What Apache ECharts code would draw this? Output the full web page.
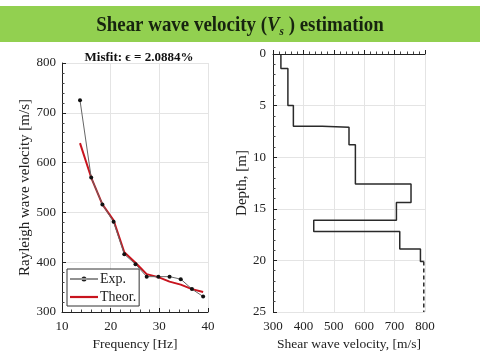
<!DOCTYPE html>
<html>
<head>
<meta charset="utf-8">
<script src="https://cdn.jsdelivr.net/npm/echarts@6/dist/echarts.min.js"></script>
<style>
html,body{margin:0;padding:0;background:#fff;}
#c{width:480px;height:360px;}
</style>
</head>
<body>
<div id="c"></div>
<script>
// ---- Left panel: dispersion curve ----
var freqHz = [13.7, 16.0, 18.3, 20.6, 22.8, 25.1, 27.4, 29.8, 32.1, 34.4, 36.7, 39.0];
var velExp = [725, 570, 516, 481, 416, 396, 371, 371, 371, 366, 346, 331];
var velTheor = [639, 570, 516, 484, 420, 399, 376, 370, 361, 355, 346, 340];

// ---- Right panel: Vs profile ----
var layerVs = [326, 349, 367, 462, 550, 571, 754, 706, 434, 717, 785];
var layerBounds = [0, 1.4, 5.0, 7.0, 7.1, 8.8, 12.6, 14.4, 16.1, 17.2, 18.9, 20.1];
var halfSpaceVs = 796;
var maxDepth = 25;

var titleText = 'Shear wave velocity (';
var misfitText = 'Misfit: \u03F5 = 2.0884%';

function pairs(xs, ys) { return xs.map(function (x, i) { return [x, ys[i]]; }); }

var profile = [];
for (var i = 0; i < layerVs.length; i++) {
  profile.push([layerVs[i], layerBounds[i]]);
  profile.push([layerVs[i], layerBounds[i + 1]]);
}
profile.push([halfSpaceVs, layerBounds[layerBounds.length - 1]]);
var halfSpace = [[halfSpaceVs, layerBounds[layerBounds.length - 1]], [halfSpaceVs, maxDepth]];

var serif = '"Liberation Serif", "Times New Roman", serif';
var gridLine = { show: true, lineStyle: { color: '#e4e4e4', width: 1 } };
var axisLine = { show: true, lineStyle: { color: '#222', width: 1 } };
var tick = { show: true, inside: true, length: 4, lineStyle: { color: '#222' } };
var minor = { show: true, splitNumber: 5, length: 2.5, lineStyle: { color: '#444' } };
var lbl = { fontFamily: serif, fontSize: 13, color: '#222' };
var nm = { fontFamily: serif, fontSize: 13.5, color: '#222' };
var nmV = { fontFamily: serif, fontSize: 15, color: '#222' };

var chart = echarts.init(document.getElementById('c'));
chart.setOption({
  backgroundColor: '#fff',
  animation: false,
  title: {
    text: misfitText,
    left: 134, top: 46, textAlign: 'center',
    textStyle: { fontFamily: serif, fontSize: 13, fontWeight: 'bold', color: '#111' }
  },
  graphic: [
    { type: 'rect', shape: { x: 0, y: 6, width: 480, height: 36 }, style: { fill: '#92d050' }, z: 0 },
    {
      type: 'text', x: 240, y: 25, scaleX: 0.86, z: 1,
      style: {
        text: '{a|' + titleText + '}{v|V}{s|s}{a| ) estimation}',
        align: 'center', verticalAlign: 'middle',
        rich: {
          a: { fontFamily: serif, fontSize: 22, fontWeight: 'bold', fill: '#17240f', lineHeight: 26 },
          v: { fontFamily: serif, fontSize: 22, fontWeight: 'bold', fontStyle: 'italic', fill: '#17240f', lineHeight: 26 },
          s: { fontFamily: serif, fontSize: 13, fontWeight: 'bold', fontStyle: 'italic', fill: '#17240f', lineHeight: 26, verticalAlign: 'bottom', padding: [10, 0, 0, 0] }
        }
      }
    }
  ],
  legend: {
    data: [
      { name: 'Exp.', icon: 'path://M0,3.5h28v1h-28z M11.5,4a2.5,2.5 0 1,0 5,0a2.5,2.5 0 1,0 -5,0z', itemStyle: { color: '#222' } },
      { name: 'Theor.', icon: 'path://M0,0h28v2.2h-28z', itemStyle: { color: '#c8141e' } }
    ],
    orient: 'vertical', left: 67, top: 269,
    itemWidth: 28, itemHeight: 12, itemGap: 4,
    padding: [3, 3, 2, 3],
    borderColor: '#333', borderWidth: 1, backgroundColor: '#fff',
    textStyle: { fontFamily: serif, fontSize: 14, color: '#222', padding: [0, 0, 0, -3] }
  },
  grid: [
    { left: 62, right: 272, top: 63, bottom: 48 },
    { left: 273, right: 55, top: 54, bottom: 48 }
  ],
  xAxis: [
    {
      gridIndex: 0, type: 'value', min: 10, max: 40, interval: 10,
      name: 'Frequency [Hz]', nameLocation: 'middle', nameGap: 23, nameTextStyle: nm,
      axisLine: axisLine, axisTick: tick, minorTick: minor, splitLine: gridLine,
      axisLabel: Object.assign({ margin: 8 }, lbl)
    },
    {
      gridIndex: 1, type: 'value', min: 300, max: 800, interval: 100,
      name: 'Shear wave velocity, [m/s]', nameLocation: 'middle', nameGap: 24, nameTextStyle: nm,
      axisLine: axisLine, axisTick: tick, minorTick: minor, splitLine: gridLine,
      axisLabel: Object.assign({ margin: 8 }, lbl)
    }
  ],
  yAxis: [
    {
      gridIndex: 0, type: 'value', min: 300, max: 800, interval: 100,
      name: 'Rayleigh wave velocity [m/s]', nameLocation: 'middle', nameGap: 26, nameTextStyle: nmV,
      axisLine: axisLine, axisTick: tick, minorTick: minor, splitLine: gridLine,
      axisLabel: Object.assign({ margin: 6 }, lbl)
    },
    {
      gridIndex: 1, type: 'value', min: 0, max: maxDepth, interval: 5, inverse: true,
      name: 'Depth, [m]', nameLocation: 'middle', nameGap: 20, nameTextStyle: nmV,
      axisLine: axisLine, axisTick: tick, minorTick: minor, splitLine: gridLine,
      axisLabel: Object.assign({ margin: 7 }, lbl)
    }
  ],
  series: [
    {
      name: 'Exp.', type: 'line', xAxisIndex: 0, yAxisIndex: 0, z: 4,
      data: pairs(freqHz, velExp),
      symbol: 'circle', symbolSize: 4, showSymbol: true,
      itemStyle: { color: '#111' },
      lineStyle: { color: '#666', width: 1 }
    },
    {
      name: 'Theor.', type: 'line', xAxisIndex: 0, yAxisIndex: 0, z: 3,
      data: pairs(freqHz, velTheor),
      showSymbol: false, symbol: 'none',
      itemStyle: { color: '#c8141e' },
      lineStyle: { color: '#c8141e', width: 2 }
    },
    {
      name: 'Profile', type: 'line', xAxisIndex: 1, yAxisIndex: 1,
      data: profile, showSymbol: false, symbol: 'none',
      lineStyle: { color: '#2a2a2a', width: 1.5 }
    },
    {
      name: 'Half-space', type: 'line', xAxisIndex: 1, yAxisIndex: 1,
      data: halfSpace, showSymbol: false, symbol: 'none',
      lineStyle: { color: '#2a2a2a', width: 1.5, type: [4, 3] }
    }
  ]
});
</script>
</body>
</html>
